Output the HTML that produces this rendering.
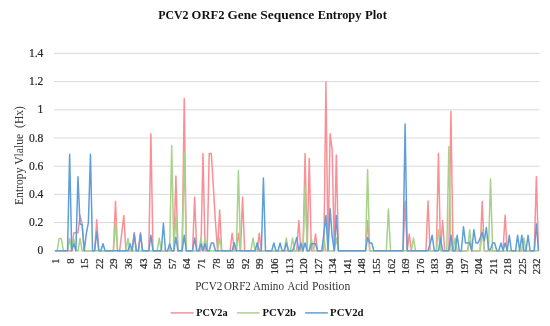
<!DOCTYPE html>
<html><head><meta charset="utf-8"><style>
html,body{margin:0;padding:0;background:#fff;}
svg{display:block;}
text{font-family:"Liberation Serif",serif;}
</style></head><body>
<svg width="550" height="326" viewBox="0 0 550 326">
<rect width="550" height="326" fill="#fff"/>
<g stroke="#d9d9d9" stroke-width="1"><line x1="54.0" y1="250.80" x2="539.5" y2="250.80"/><line x1="54.0" y1="222.60" x2="539.5" y2="222.60"/><line x1="54.0" y1="194.40" x2="539.5" y2="194.40"/><line x1="54.0" y1="166.20" x2="539.5" y2="166.20"/><line x1="54.0" y1="138.00" x2="539.5" y2="138.00"/><line x1="54.0" y1="109.80" x2="539.5" y2="109.80"/><line x1="54.0" y1="81.60" x2="539.5" y2="81.60"/><line x1="54.0" y1="53.40" x2="539.5" y2="53.40"/></g>
<g fill="none" stroke-width="1.5" stroke-linejoin="round">
<polyline stroke="#fa9095" points="55.04,250.80 57.13,250.80 59.21,250.80 61.29,250.80 63.38,250.80 65.46,250.80 67.54,250.80 69.63,250.80 71.71,250.80 73.80,232.75 75.88,232.75 77.96,232.75 80.05,215.55 82.13,224.01 84.21,250.80 86.30,250.80 88.38,250.80 90.46,250.80 92.55,250.80 94.63,250.80 96.72,219.78 98.80,250.80 100.88,250.80 102.97,250.80 105.05,250.80 107.13,250.80 109.22,250.80 111.30,250.80 113.39,250.80 115.47,201.45 117.55,250.80 119.64,250.80 121.72,233.18 123.80,215.55 125.89,250.80 127.97,250.80 130.05,250.80 132.14,250.80 134.22,232.47 136.31,250.80 138.39,250.80 140.47,232.47 142.56,250.80 144.64,250.80 146.72,250.80 148.81,250.80 150.89,133.77 152.98,250.80 155.06,250.80 157.14,250.80 159.23,250.80 161.31,250.80 163.39,250.80 165.48,250.80 167.56,250.80 169.64,250.80 171.73,250.80 173.81,250.80 175.90,176.07 177.98,250.80 180.06,250.80 182.15,250.80 184.23,98.52 186.31,250.80 188.40,250.80 190.48,250.80 192.57,250.80 194.65,197.22 196.73,250.80 198.82,250.80 200.90,250.80 202.98,153.51 205.07,250.80 207.15,250.80 209.23,153.51 211.32,153.51 213.40,187.35 215.49,222.60 217.57,250.80 219.65,209.91 221.74,250.80 223.82,250.80 225.90,250.80 227.99,250.80 230.07,250.80 232.16,233.18 234.24,250.80 236.32,250.80 238.41,233.18 240.49,250.80 242.57,197.22 244.66,250.80 246.74,250.80 248.83,250.80 250.91,250.80 252.99,250.80 255.08,250.80 257.16,250.80 259.24,233.18 261.33,250.80 263.41,250.80 265.49,250.80 267.58,250.80 269.66,250.80 271.75,250.80 273.83,250.80 275.91,250.80 278.00,250.80 280.08,250.80 282.16,250.80 284.25,250.80 286.33,250.80 288.42,250.80 290.50,250.80 292.58,250.80 294.67,250.80 296.75,250.80 298.83,220.49 300.92,250.80 303.00,250.80 305.08,153.51 307.17,250.80 309.25,158.44 311.34,250.80 313.42,250.80 315.50,233.88 317.59,250.80 319.67,250.80 321.75,250.80 323.84,250.80 325.92,82.02 328.01,250.80 330.09,133.77 332.17,149.99 334.26,250.80 336.34,154.92 338.42,250.80 340.51,250.80 342.59,250.80 344.67,250.80 346.76,250.80 348.84,250.80 350.93,250.80 353.01,250.80 355.09,250.80 357.18,250.80 359.26,250.80 361.34,250.80 363.43,250.80 365.51,250.80 367.60,220.49 369.68,250.80 371.76,250.80 373.85,250.80 375.93,250.80 378.01,250.80 380.10,250.80 382.18,250.80 384.27,250.80 386.35,250.80 388.43,250.80 390.52,250.80 392.60,250.80 394.68,250.80 396.77,250.80 398.85,250.80 400.93,250.80 403.02,250.80 405.10,201.03 407.19,250.80 409.27,233.88 411.35,250.80 413.44,250.80 415.52,250.80 417.60,250.80 419.69,250.80 421.77,250.80 423.86,250.80 425.94,250.80 428.02,201.03 430.11,250.80 432.19,250.80 434.27,250.80 436.36,250.80 438.44,153.51 440.52,250.80 442.61,220.49 444.69,250.80 446.78,250.80 448.86,250.80 450.94,111.21 453.03,250.80 455.11,250.80 457.19,250.80 459.28,250.80 461.36,250.80 463.45,250.80 465.53,250.80 467.61,250.80 469.70,240.93 471.78,250.80 473.86,250.80 475.95,250.80 478.03,250.80 480.11,250.80 482.20,201.45 484.28,250.80 486.37,250.80 488.45,250.80 490.53,250.80 492.62,250.80 494.70,250.80 496.78,250.80 498.87,250.80 500.95,250.80 503.04,250.80 505.12,215.13 507.20,250.80 509.29,250.80 511.37,250.80 513.45,250.80 515.54,250.80 517.62,250.80 519.70,250.80 521.79,250.80 523.87,250.80 525.96,250.80 528.04,250.80 530.12,250.80 532.21,250.80 534.29,250.80 536.37,176.63 538.46,250.80"/>
<polyline stroke="#a6d28a" points="55.04,250.80 57.13,250.80 59.21,238.39 61.29,238.39 63.38,250.80 65.46,250.80 67.54,250.80 69.63,238.39 71.71,250.80 73.80,238.81 75.88,250.80 77.96,250.80 80.05,238.39 82.13,250.80 84.21,250.80 86.30,250.80 88.38,250.80 90.46,250.80 92.55,250.80 94.63,250.80 96.72,250.80 98.80,250.80 100.88,250.80 102.97,250.80 105.05,250.80 107.13,250.80 109.22,250.80 111.30,250.80 113.39,250.80 115.47,222.60 117.55,250.80 119.64,250.80 121.72,250.80 123.80,250.80 125.89,250.80 127.97,238.39 130.05,250.80 132.14,250.80 134.22,250.80 136.31,250.80 138.39,250.80 140.47,250.80 142.56,250.80 144.64,250.80 146.72,250.80 148.81,250.80 150.89,250.80 152.98,250.80 155.06,250.80 157.14,250.80 159.23,238.11 161.31,250.80 163.39,250.80 165.48,250.80 167.56,250.80 169.64,250.80 171.73,145.75 173.81,250.80 175.90,216.96 177.98,250.80 180.06,250.80 182.15,250.80 184.23,152.10 186.31,250.80 188.40,250.80 190.48,250.80 192.57,250.80 194.65,250.80 196.73,250.80 198.82,250.80 200.90,238.11 202.98,250.80 205.07,238.11 207.15,250.80 209.23,250.80 211.32,250.80 213.40,250.80 215.49,250.80 217.57,250.80 219.65,238.11 221.74,250.80 223.82,250.80 225.90,250.80 227.99,250.80 230.07,250.80 232.16,250.80 234.24,250.80 236.32,250.80 238.41,170.43 240.49,250.80 242.57,250.80 244.66,250.80 246.74,250.80 248.83,250.80 250.91,250.80 252.99,238.11 255.08,250.80 257.16,250.80 259.24,250.80 261.33,250.80 263.41,250.80 265.49,250.80 267.58,250.80 269.66,250.80 271.75,250.80 273.83,250.80 275.91,250.80 278.00,250.80 280.08,250.80 282.16,250.80 284.25,250.80 286.33,238.11 288.42,250.80 290.50,250.80 292.58,238.11 294.67,250.80 296.75,250.80 298.83,250.80 300.92,250.80 303.00,250.80 305.08,185.24 307.17,250.80 309.25,250.80 311.34,238.11 313.42,250.80 315.50,250.80 317.59,250.80 319.67,250.80 321.75,250.80 323.84,238.11 325.92,250.80 328.01,250.80 330.09,250.80 332.17,250.80 334.26,250.80 336.34,238.11 338.42,250.80 340.51,250.80 342.59,250.80 344.67,250.80 346.76,250.80 348.84,250.80 350.93,250.80 353.01,250.80 355.09,250.80 357.18,250.80 359.26,250.80 361.34,250.80 363.43,250.80 365.51,250.80 367.60,169.44 369.68,250.80 371.76,250.80 373.85,250.80 375.93,250.80 378.01,250.80 380.10,250.80 382.18,250.80 384.27,250.80 386.35,250.80 388.43,209.06 390.52,250.80 392.60,250.80 394.68,250.80 396.77,250.80 398.85,250.80 400.93,250.80 403.02,250.80 405.10,250.80 407.19,250.80 409.27,250.80 411.35,250.80 413.44,238.11 415.52,250.80 417.60,250.80 419.69,250.80 421.77,250.80 423.86,250.80 425.94,250.80 428.02,250.80 430.11,250.80 432.19,250.80 434.27,250.80 436.36,250.80 438.44,229.65 440.52,250.80 442.61,250.80 444.69,250.80 446.78,250.80 448.86,146.46 450.94,250.80 453.03,250.80 455.11,238.11 457.19,250.80 459.28,250.80 461.36,250.80 463.45,250.80 465.53,250.80 467.61,250.80 469.70,229.65 471.78,250.80 473.86,250.80 475.95,250.80 478.03,250.80 480.11,250.80 482.20,229.65 484.28,250.80 486.37,250.80 488.45,250.80 490.53,178.89 492.62,250.80 494.70,250.80 496.78,250.80 498.87,250.80 500.95,250.80 503.04,250.80 505.12,250.80 507.20,250.80 509.29,250.80 511.37,250.80 513.45,250.80 515.54,250.80 517.62,250.80 519.70,250.80 521.79,250.80 523.87,238.11 525.96,250.80 528.04,250.80 530.12,250.80 532.21,250.80 534.29,250.80 536.37,250.80 538.46,250.80"/>
<polyline stroke="#5f9fd9" points="55.04,250.80 57.13,250.80 59.21,250.80 61.29,250.80 63.38,250.80 65.46,250.80 67.54,250.80 69.63,154.36 71.71,250.80 73.80,243.75 75.88,250.80 77.96,176.78 80.05,224.01 82.13,224.72 84.21,250.80 86.30,233.88 88.38,222.60 90.46,154.36 92.55,250.80 94.63,250.80 96.72,231.77 98.80,250.80 100.88,250.80 102.97,243.75 105.05,250.80 107.13,250.80 109.22,250.80 111.30,250.80 113.39,250.80 115.47,250.80 117.55,250.80 119.64,250.80 121.72,250.80 123.80,250.80 125.89,250.80 127.97,250.80 130.05,243.75 132.14,250.80 134.22,233.88 136.31,250.80 138.39,250.80 140.47,233.88 142.56,250.80 144.64,250.80 146.72,250.80 148.81,250.80 150.89,235.29 152.98,250.80 155.06,250.80 157.14,250.80 159.23,250.80 161.31,250.80 163.39,223.16 165.48,250.80 167.56,250.80 169.64,243.75 171.73,250.80 173.81,250.80 175.90,237.41 177.98,250.80 180.06,250.80 182.15,250.80 184.23,235.29 186.31,250.80 188.40,250.80 190.48,250.80 192.57,250.80 194.65,238.11 196.73,250.80 198.82,250.80 200.90,243.75 202.98,250.80 205.07,243.75 207.15,250.80 209.23,250.80 211.32,243.05 213.40,243.05 215.49,250.80 217.57,250.80 219.65,250.80 221.74,250.80 223.82,250.80 225.90,250.80 227.99,250.80 230.07,250.80 232.16,250.80 234.24,242.76 236.32,250.80 238.41,250.80 240.49,250.80 242.57,250.80 244.66,250.80 246.74,250.80 248.83,250.80 250.91,250.80 252.99,250.80 255.08,250.80 257.16,242.76 259.24,250.80 261.33,250.80 263.41,177.90 265.49,250.80 267.58,250.80 269.66,250.80 271.75,250.80 273.83,243.05 275.91,250.80 278.00,250.80 280.08,243.05 282.16,250.80 284.25,250.80 286.33,243.05 288.42,250.80 290.50,250.80 292.58,250.80 294.67,245.16 296.75,237.41 298.83,250.80 300.92,243.05 303.00,250.80 305.08,243.05 307.17,250.80 309.25,250.80 311.34,243.75 313.42,243.75 315.50,243.75 317.59,250.80 319.67,250.80 321.75,250.80 323.84,233.88 325.92,215.55 328.01,250.80 330.09,208.50 332.17,236.70 334.26,250.80 336.34,215.55 338.42,250.80 340.51,250.80 342.59,250.80 344.67,250.80 346.76,250.80 348.84,250.80 350.93,250.80 353.01,250.80 355.09,250.80 357.18,250.80 359.26,250.80 361.34,250.80 363.43,250.80 365.51,250.80 367.60,237.41 369.68,243.05 371.76,243.05 373.85,250.80 375.93,250.80 378.01,250.80 380.10,250.80 382.18,250.80 384.27,250.80 386.35,250.80 388.43,250.80 390.52,250.80 392.60,250.80 394.68,250.80 396.77,250.80 398.85,250.80 400.93,250.80 403.02,250.80 405.10,123.90 407.19,250.80 409.27,250.80 411.35,250.80 413.44,250.80 415.52,250.80 417.60,250.80 419.69,250.80 421.77,250.80 423.86,250.80 425.94,250.80 428.02,250.80 430.11,243.75 432.19,235.29 434.27,250.80 436.36,250.80 438.44,250.80 440.52,238.11 442.61,250.80 444.69,250.80 446.78,250.80 448.86,250.80 450.94,235.29 453.03,250.80 455.11,250.80 457.19,235.29 459.28,250.80 461.36,250.80 463.45,226.83 465.53,243.05 467.61,243.05 469.70,243.05 471.78,250.80 473.86,229.65 475.95,243.05 478.03,243.05 480.11,238.11 482.20,232.47 484.28,240.93 486.37,227.54 488.45,249.39 490.53,249.39 492.62,243.05 494.70,243.05 496.78,250.80 498.87,250.80 500.95,243.05 503.04,250.80 505.12,243.05 507.20,250.80 509.29,235.29 511.37,250.80 513.45,250.80 515.54,250.80 517.62,235.29 519.70,250.80 521.79,235.29 523.87,250.80 525.96,250.80 528.04,235.29 530.12,250.80 532.21,250.80 534.29,250.80 536.37,224.01 538.46,250.80"/>
</g>
<text x="158.20" y="18.9" textLength="30.35" lengthAdjust="spacingAndGlyphs" font-size="12.6" font-weight="bold" fill="#111">PCV2</text><text x="191.60" y="18.9" textLength="32.85" lengthAdjust="spacingAndGlyphs" font-size="12.6" font-weight="bold" fill="#111">ORF2</text><text x="227.60" y="18.9" textLength="29.30" lengthAdjust="spacingAndGlyphs" font-size="12.6" font-weight="bold" fill="#111">Gene</text><text x="260.30" y="18.9" textLength="53.85" lengthAdjust="spacingAndGlyphs" font-size="12.6" font-weight="bold" fill="#111">Sequence</text><text x="317.65" y="18.9" textLength="43.80" lengthAdjust="spacingAndGlyphs" font-size="12.6" font-weight="bold" fill="#111">Entropy</text><text x="365.10" y="18.9" textLength="21.80" lengthAdjust="spacingAndGlyphs" font-size="12.6" font-weight="bold" fill="#111">Plot</text>
<g font-size="11.6" fill="#262626" stroke="#262626" stroke-width="0.2" text-anchor="end"><text x="43.4" y="254.30">0</text><text x="43.4" y="226.10">0.2</text><text x="43.4" y="197.90">0.4</text><text x="43.4" y="169.70">0.6</text><text x="43.4" y="141.50">0.8</text><text x="43.4" y="113.30">1</text><text x="43.4" y="85.10">1.2</text><text x="43.4" y="56.90">1.4</text></g>
<text transform="translate(22.8,205) rotate(-90)" font-size="11.5" xml:space="preserve" fill="#333" textLength="99" lengthAdjust="spacingAndGlyphs">Entropy Vlalue  (Hx)</text>
<g font-size="10.6" fill="#262626" stroke="#262626" stroke-width="0.2" text-anchor="end"><text transform="translate(59.14,258.4) rotate(-90)">1</text><text transform="translate(73.73,258.4) rotate(-90)">8</text><text transform="translate(88.31,258.4) rotate(-90)">15</text><text transform="translate(102.90,258.4) rotate(-90)">22</text><text transform="translate(117.49,258.4) rotate(-90)">29</text><text transform="translate(132.07,258.4) rotate(-90)">36</text><text transform="translate(146.66,258.4) rotate(-90)">43</text><text transform="translate(161.24,258.4) rotate(-90)">50</text><text transform="translate(175.83,258.4) rotate(-90)">57</text><text transform="translate(190.41,258.4) rotate(-90)">64</text><text transform="translate(205.00,258.4) rotate(-90)">71</text><text transform="translate(219.59,258.4) rotate(-90)">78</text><text transform="translate(234.17,258.4) rotate(-90)">85</text><text transform="translate(248.76,258.4) rotate(-90)">92</text><text transform="translate(263.34,258.4) rotate(-90)">99</text><text transform="translate(277.93,258.4) rotate(-90)">106</text><text transform="translate(292.52,258.4) rotate(-90)">113</text><text transform="translate(307.10,258.4) rotate(-90)">120</text><text transform="translate(321.69,258.4) rotate(-90)">127</text><text transform="translate(336.27,258.4) rotate(-90)">134</text><text transform="translate(350.86,258.4) rotate(-90)">141</text><text transform="translate(365.44,258.4) rotate(-90)">148</text><text transform="translate(380.03,258.4) rotate(-90)">155</text><text transform="translate(394.62,258.4) rotate(-90)">162</text><text transform="translate(409.20,258.4) rotate(-90)">169</text><text transform="translate(423.79,258.4) rotate(-90)">176</text><text transform="translate(438.37,258.4) rotate(-90)">183</text><text transform="translate(452.96,258.4) rotate(-90)">190</text><text transform="translate(467.55,258.4) rotate(-90)">197</text><text transform="translate(482.13,258.4) rotate(-90)">204</text><text transform="translate(496.72,258.4) rotate(-90)">211</text><text transform="translate(511.30,258.4) rotate(-90)">218</text><text transform="translate(525.89,258.4) rotate(-90)">225</text><text transform="translate(540.47,258.4) rotate(-90)">232</text></g>
<text x="195.15" y="289.8" textLength="27.30" lengthAdjust="spacingAndGlyphs" font-size="11.6" fill="#333">PCV2</text><text x="223.95" y="289.8" textLength="26.85" lengthAdjust="spacingAndGlyphs" font-size="11.6" fill="#333">ORF2</text><text x="253.05" y="289.8" textLength="30.95" lengthAdjust="spacingAndGlyphs" font-size="11.6" fill="#333">Amino</text><text x="287.50" y="289.8" textLength="20.80" lengthAdjust="spacingAndGlyphs" font-size="11.6" fill="#333">Acid</text><text x="311.95" y="289.8" textLength="38.30" lengthAdjust="spacingAndGlyphs" font-size="11.6" fill="#333">Position</text>
<g stroke-width="1.5">
<line x1="170.6" y1="312.9" x2="193.6" y2="312.9" stroke="#fa9095"/>
<line x1="237.1" y1="312.9" x2="259.5" y2="312.9" stroke="#a6d28a"/>
<line x1="305.2" y1="312.9" x2="327.9" y2="312.9" stroke="#5f9fd9"/>
</g>
<text x="196.15" y="315.7" textLength="31.55" lengthAdjust="spacingAndGlyphs" font-size="10.5" font-weight="bold" fill="#111">PCV2a</text><text x="262.45" y="315.7" textLength="33.70" lengthAdjust="spacingAndGlyphs" font-size="10.5" font-weight="bold" fill="#111">PCV2b</text><text x="330.10" y="315.7" textLength="33.45" lengthAdjust="spacingAndGlyphs" font-size="10.5" font-weight="bold" fill="#111">PCV2d</text>
</svg>
</body></html>
